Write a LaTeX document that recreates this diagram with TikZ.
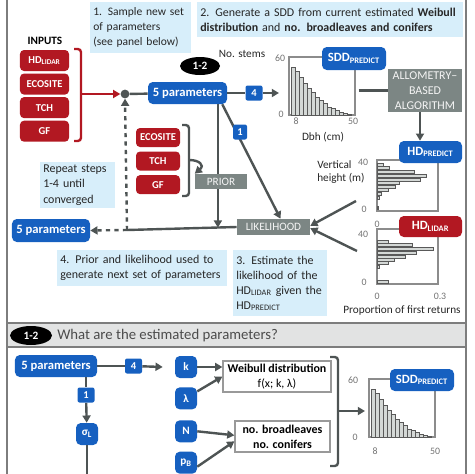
\documentclass[tikz,border=0pt]{standalone}
\usepackage{fontspec}
\setmainfont{Carlito}
\usetikzlibrary{arrows.meta, positioning, shapes.geometric}
\definecolor{parblue}{RGB}{22,96,192}
\definecolor{inred}{RGB}{178,24,34}
\definecolor{stepgray}{RGB}{124,134,132}
\definecolor{notefill}{RGB}{215,238,250}
\definecolor{framegray}{RGB}{125,125,125}
\definecolor{bandgray}{RGB}{226,227,227}
\definecolor{linkgray}{RGB}{78,84,84}
\definecolor{barfill}{RGB}{212,216,214}
\newcommand{\subtxt}[1]{\textsubscript{#1}}
\tikzset{>={Triangle[length=1.8mm,width=2mm]}}

\begin{document}
\begin{tikzpicture}[x=0.25mm, y=-0.25mm,
    par/.style={fill=parblue, text=white, font=\fontsize{9}{10}\selectfont\bfseries, rounded corners=1.2mm, inner sep=0pt},
    inp/.style={fill=inred, text=white, font=\fontsize{7.5}{9}\selectfont\bfseries, rounded corners=1mm, minimum width=12.25mm, minimum height=5.25mm, inner sep=0pt},
    num/.style={fill=parblue, text=white, font=\fontsize{7.5}{9}\selectfont\bfseries, rounded corners=0.5mm, inner sep=0pt, minimum width=4.25mm, minimum height=3.75mm},
    proc/.style={fill=stepgray, text=white!92!stepgray, font=\fontsize{8.5}{10.7}\selectfont, inner sep=0pt, align=center},
    note/.style={fill=notefill, text=black!85, font=\fontsize{8.5}{10.7}\selectfont, align=left, inner sep=0.75mm, anchor=north west},
    link/.style={draw=linkgray, line width=0.6mm},
    redlink/.style={draw=inred, line width=0.6mm},
    bar/.style={fill=barfill, draw=black!65, line width=0.2mm},
    axisbox/.style={draw=black!45, line width=0.3mm, inner sep=0pt},
    tick/.style={font=\fontsize{7}{8}\selectfont, text=black!55},
    axlabel/.style={font=\fontsize{8}{9.5}\selectfont, text=black!85},
    ell/.style={ellipse, fill=black, text=white, font=\fontsize{8}{9}\selectfont\bfseries, inner sep=0pt},
    txtbox/.style={draw=black!40, fill=white, line width=0.3mm, font=\fontsize{8.5}{10.5}\selectfont, align=center, inner sep=0pt}]
\useasboundingbox (0,0) rectangle (474,474);

\fill[bandgray] (7,323) rectangle (466,347);
\draw[framegray, line width=0.5mm] (7,-5) -- (7,480) (466,-5) -- (466,480) (7,323) -- (466,323) (7,347) -- (466,347);

\node[note, font=\fontsize{8.2}{10.7}\selectfont, text width=23.75mm, minimum height=12.75mm] (stepone) at (90,2) {1. Sample new set\\of parameters\\(see panel below)};
\node[note, text width=65mm, minimum height=8.75mm] (steptwo) at (197,2) {2. Generate a SDD from current estimated \textbf{Weibull}\\\textbf{distribution} and \textbf{no. broadleaves and conifers}};
\node[note, text width=17.25mm, minimum height=11.25mm] (repeat) at (40,162) {Repeat steps\\1-4 until\\converged};
\node[note, text width=41mm, minimum height=9mm] (stepfour) at (57,250) {4. Prior and likelihood used to\\generate next set of parameters};
\node[note, text width=22mm, minimum height=16.5mm] (stepthree) at (233,250) {3. Estimate the\\likelihood of the\\HD\subtxt{LIDAR} given the\\HD\subtxt{PREDICT}};

\node[font=\fontsize{8}{9}\selectfont\bfseries] (inputs) at (45,41) {INPUTS};
\node[inp] (hdin) at (44.5,60.5) {HD\subtxt{LIDAR}};
\node[inp, below=0.5mm of hdin] (ecoin) {ECOSITE};
\node[inp, below=0.5mm of ecoin] (tchin) {TCH};
\node[inp, below=0.5mm of tchin] (gfin) {GF};
\draw[redlink, rounded corners=0.8mm] (74,49) -- (81,49) -- (81,141) -- (74,141);
\coordinate (inbrk) at (81,94);
\node[circle, fill=linkgray, minimum size=2.2mm, inner sep=0pt] (dot) at (125,94) {};
\draw[redlink,->] (inbrk) -- (dot);

\node[ell, minimum width=10mm, minimum height=4.5mm] (onetwo) at (200,66) {1-2};
\node[par, minimum width=19.75mm, minimum height=5.5mm] (params) at (187.5,93) {5 parameters};
\node[num] (four) at (254,93) {4};
\coordinate (sddin) at (279,93);
\draw[link] (dot) -- (params);
\draw[link] (params) -- (four);
\draw[link,->] (four) -- (sddin);

% SDD histogram
\node[axisbox, minimum width=16.5mm, minimum height=14.5mm] (sddframe) at (322,86) {};
\foreach \h [count=\i from 0] in {48,44,38,32,27,23,18,15,12,8,7,5,3,2,1}
  \draw[bar] (291+4*\i,115) rectangle ++(4,-\h);
\node[axlabel] at (242,54) {No. stems};
\node[tick] at (280,58) {60};
\node[tick] at (281,114) {0};
\node[tick] at (296,121) {8};
\node[tick] at (353,121) {50};
\node[axlabel] at (323,137) {Dbh (cm)};
\node[par, minimum width=16mm, minimum height=5.75mm] (sddtop) at (354,58.5) {SDD\subtxt{PREDICT}};

\node[proc, minimum width=18.5mm, minimum height=10.75mm] (allo) at (425,90.5) {ALLOMETRY--\\BASED\\ALGORITHM};
\draw[link] ([xshift=0.75mm]sddframe.east |- allo.west) -- (allo.west);

% HD histograms
\node[axisbox, minimum width=15.25mm, minimum height=12.75mm] (hdframea) at (407.5,185.5) {};
\foreach \yy/\len in {165/6,168/12,172/37,176/49,180/43,183/22,187/18,190/11,194/4,198/2,208/1}
  \draw[bar] (377,\yy-1.7) rectangle ++(\len,3.4);
\node[axisbox, minimum width=15.25mm, minimum height=13.75mm] (hdframeb) at (407.5,256.5) {};
\foreach \yy/\len in {242/11,245/35,249/56,253/39,257/28,260/17,263/11,267/2,282/11}
  \draw[bar] (377,\yy-1.7) rectangle ++(\len,3.4);
\node[axlabel, anchor=north west, align=left, inner sep=0pt] at (317,160) {Vertical\\height (m)};
\node[tick] at (363,162) {40};
\node[tick] at (364,209) {0};
\node[tick] at (377,224) {0};
\node[tick] at (363,234) {40};
\node[tick] at (364,282) {0};
\node[tick] at (377,296) {0};
\node[tick] at (440,296) {0.3};
\node[axlabel] at (402,311) {Proportion of first returns};
\node[par, minimum width=15.75mm, minimum height=5.5mm] (hdpred) at (430.5,152) {HD\subtxt{PREDICT}};
\node[par, fill=inred, minimum width=15.75mm, minimum height=5.25mm] (hdlidar) at (430.5,226.5) {HD\subtxt{LIDAR}};
\draw[link,->] ([xshift=-1.25mm]allo.south) -- ([xshift=-1.25mm]allo.south |- hdpred.north);

% prior and likelihood
\node[proc, font=\fontsize{8}{9}\selectfont, minimum width=18.25mm, minimum height=4mm] (likeli) at (273.5,227) {LIKELIHOOD};
\coordinate (hdouta) at (356,201);
\coordinate (hdoutb) at (357,251);
\draw[link,->] (hdouta) -- ([yshift=0.3mm]likeli.east);
\draw[link,->] (hdoutb) -- ([yshift=-0.3mm]likeli.east);
\draw[link,->] ([xshift=-1.25mm]params.south east) -- ([xshift=1.75mm]likeli.north);
\node[num, minimum width=3.5mm] (one) at (240,132) {1};
\coordinate (corner) at (127,230);
\draw[link] (likeli.west) -- (corner);
\draw[link,->,shorten >=0.6mm] ([xshift=7.6mm]params.south) -- ([xshift=7.6mm]params.south |- corner);
\draw[link,dashed,->] (corner) -- (dot.south);
\node[par, minimum width=19.5mm, minimum height=5.75mm] (paramsb) at (51,230.5) {5 parameters};
\draw[link,dashed,->] (corner) -- (paramsb.east);

\node[inp, minimum width=11mm, minimum height=4.75mm] (ecopr) at (158,137.5) {ECOSITE};
\node[inp, minimum width=11mm, minimum height=4.75mm, below=1mm of ecopr] (tchpr) {TCH};
\node[inp, minimum width=11mm, minimum height=4.75mm, below=1mm of tchpr] (gfpr) {GF};
\draw[link, rounded corners=0.8mm] (182,125) -- (189,125) -- (189,196) -- (182,196);
\coordinate (prbrk) at (189,160);
\node[proc, font=\fontsize{8}{9}\selectfont, minimum width=13mm, minimum height=3.75mm] (prior) at (221,181.5) {PRIOR};
\draw[link,->] (prbrk) .. controls (199,160) and (205,165) .. (prior.north west);

% panel 1-2
\node[ell, minimum width=10.5mm, minimum height=4.75mm] (onetwob) at (31,335.5) {1-2};
\node[anchor=west, inner sep=0pt, font=\fontsize{10.5}{12}\selectfont, text=black!70] (title) at (57,335.5) {What are the estimated parameters?};

\node[par, minimum width=20.5mm, minimum height=5.5mm] (paramsc) at (56,366) {5 parameters};
\node[num] (fourb) at (133.5,366) {4};
\node[par, minimum width=5.5mm, minimum height=5.5mm, font=\fontsize{8}{9}\selectfont\bfseries] (kpar) at (186,367) {k};
\node[par, minimum width=5.5mm, minimum height=5.5mm, font=\fontsize{8}{9}\selectfont\bfseries, below=2.2mm of kpar] (lpar) {λ};
\node[par, minimum width=5.5mm, minimum height=5.5mm, font=\fontsize{8}{9}\selectfont\bfseries, below=2.6mm of lpar] (npar) {N};
\node[par, minimum width=5.5mm, minimum height=5.5mm, font=\fontsize{8}{9}\selectfont\bfseries, below=2.2mm of npar] (ppar) {p\subtxt{B}};
\draw[link] (paramsc) -- (fourb);
\draw[link,->] (fourb) -- ([xshift=-3mm]kpar.west);

\node[txtbox, minimum width=27mm, minimum height=7.75mm] (weib) at (277,376.5) {\textbf{Weibull distribution}\\f(x; k, λ)};
\node[txtbox, font=\fontsize{8.5}{10.5}\selectfont\bfseries, minimum width=23.75mm, minimum height=7.75mm] (nobroad) at (282.5,436.5) {no. broadleaves\\no. conifers};
\draw[link,->] (kpar.east) -- (kpar.east -| weib.west);
\draw[link,->] ([yshift=1.75mm]lpar.east) -- (weib.west);
\draw[link,->] (npar.east) -- ([yshift=0.3mm]nobroad.west);
\draw[link,->] ([yshift=-1mm]ppar.east) -- ([yshift=-1.2mm]nobroad.west);

\node[num] (oneb) at (86,395) {1};
\node[par, minimum width=5.5mm, minimum height=5.5mm, font=\fontsize{8}{9}\selectfont\bfseries] (sigpar) at (87,434) {σ\subtxt{L}};
\coordinate (sigout) at (87,482);
\draw[link] (paramsc.south -| oneb) -- (oneb);
\draw[link,->] (oneb) -- (sigpar);
\draw[link,->] (sigpar) -- (sigout);

\draw[link, rounded corners=0.8mm] (330,357) -- (338,357) -- (338,466) -- (330,466);
\coordinate (wbrk) at (338,411);
\coordinate (sddinb) at (365,411);
\draw[link,->] (wbrk) -- (sddinb);

\node[axisbox, minimum width=16.5mm, minimum height=14.5mm] (sddframeb) at (402,408) {};
\foreach \h [count=\i from 0] in {48,44,38,32,27,23,18,15,12,8,7,5,3,2,1}
  \draw[bar] (371+4*\i,437) rectangle ++(4,-\h);
\node[tick] at (353,380) {60};
\node[tick] at (355,437) {0};
\node[tick] at (375,451) {8};
\node[tick] at (435,451) {50};
\node[par, minimum width=16mm, minimum height=5.5mm] (sddbot) at (422,380) {SDD\subtxt{PREDICT}};
\end{tikzpicture}
\end{document}
